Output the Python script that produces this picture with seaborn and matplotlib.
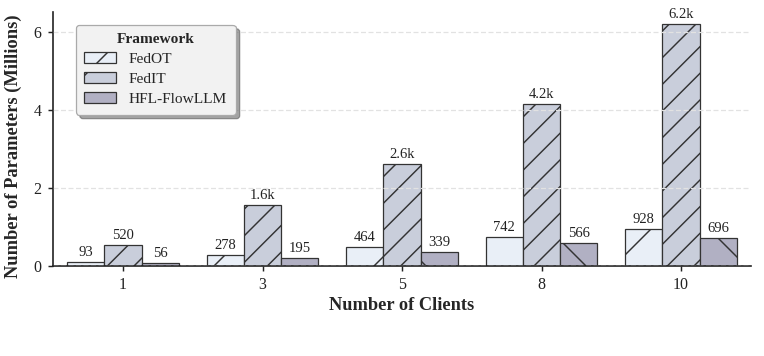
import matplotlib
matplotlib.use("Agg")
import matplotlib.pyplot as plt
import seaborn as sns
import pandas as pd
from matplotlib.patches import Patch

clients = ["1", "3", "5", "8", "10"]
frameworks = ["FedOT", "FedIT", "HFL-FlowLLM"]
fedot = [93, 278, 464, 742, 928]
fedit = [520, 1560, 2600, 4160, 6200]
hfl = [56, 195, 339, 566, 696]

colors = ["#e9eff7", "#c9cedb", "#b1b0c3"]
hatches = ["/", "///", "\\"]

rows = []
for fw, vals in zip(frameworks, [fedot, fedit, hfl]):
    for c, v in zip(clients, vals):
        rows.append({"Clients": c, "Framework": fw, "Params": v / 1000.0})
df = pd.DataFrame(rows)

DPI = 240
K = 150.0 / DPI  # sizes below were tuned at 150 dpi

sns.set_style("ticks")
plt.rcParams["font.family"] = ["Liberation Serif", "DejaVu Serif"]
plt.rcParams["hatch.linewidth"] = 0.7 * K

fig = plt.figure(figsize=(764 / DPI, 356 / DPI), dpi=DPI)
ax = fig.add_axes([53.3 / 764, 90.5 / 356, 697.5 / 764, 253.5 / 356])

sns.barplot(data=df, x="Clients", y="Params", hue="Framework", order=clients,
            hue_order=frameworks, palette=colors, saturation=1, edgecolor="#333333",
            linewidth=0.6 * K, width=0.8, ax=ax, legend=False, zorder=2,
            errorbar=None)

series = [fedot, fedit, hfl]
for i, cont in enumerate(ax.containers):
    for bar, v in zip(cont, series[i]):
        bar.set_hatch(hatches[i])
        lab = f"{v/1000:.1f}k" if v >= 1000 else f"{v}"
        ax.annotate(lab, (bar.get_x() + bar.get_width() / 2, bar.get_height()),
                    xytext=(0, 1.5 * K), textcoords="offset points",
                    ha="center", va="bottom", fontsize=7 * K, color="#222222")

ax.set_ylim(0, 6.52)
ax.set_xlim(-0.5, 4.5)
ax.set_yticks([0, 2, 4, 6])
ax.yaxis.grid(True, linestyle=(0, (4, 2)), color="#e2e2e2", linewidth=0.6 * K, zorder=3)
ax.set_axisbelow(False)
sns.despine(ax=ax)
for s in ["left", "bottom"]:
    ax.spines[s].set_color("#222222")
    ax.spines[s].set_linewidth(0.8 * K)
ax.tick_params(axis="both", labelsize=7.7 * K, colors="#222222", length=2.2 * K,
               width=0.7 * K, pad=3.5 * K)
ax.set_xlabel("Number of Clients", fontsize=8.8 * K, fontweight="bold", labelpad=1.5 * K)
ax.set_ylabel("Number of Parameters (Millions)", fontsize=8.9 * K, fontweight="bold",
              labelpad=3 * K)
ax.yaxis.set_label_coords(-0.045, 0.47)

handles = [Patch(facecolor=colors[i], edgecolor="#333333", linewidth=0.6 * K, hatch="/",
                 label=frameworks[i]) for i in range(3)]
leg = ax.legend(handles=handles, title="Framework", loc="upper left",
                bbox_to_anchor=(0.032, 0.95), borderaxespad=0, fontsize=7.4 * K,
                frameon=True, shadow={"ox": 2 * K, "oy": -2 * K}, fancybox=True,
                borderpad=0.55, labelspacing=0.4, handlelength=2.1, handletextpad=0.8)
leg.get_title().set_fontweight("bold")
leg.get_title().set_fontsize(7.4 * K)
leg.get_frame().set_facecolor("#f2f2f2")
leg.get_frame().set_edgecolor("#aaaaaa")
leg.get_frame().set_linewidth(0.6 * K)
leg.set_zorder(5)

fig.savefig("out.png", dpi=DPI)
